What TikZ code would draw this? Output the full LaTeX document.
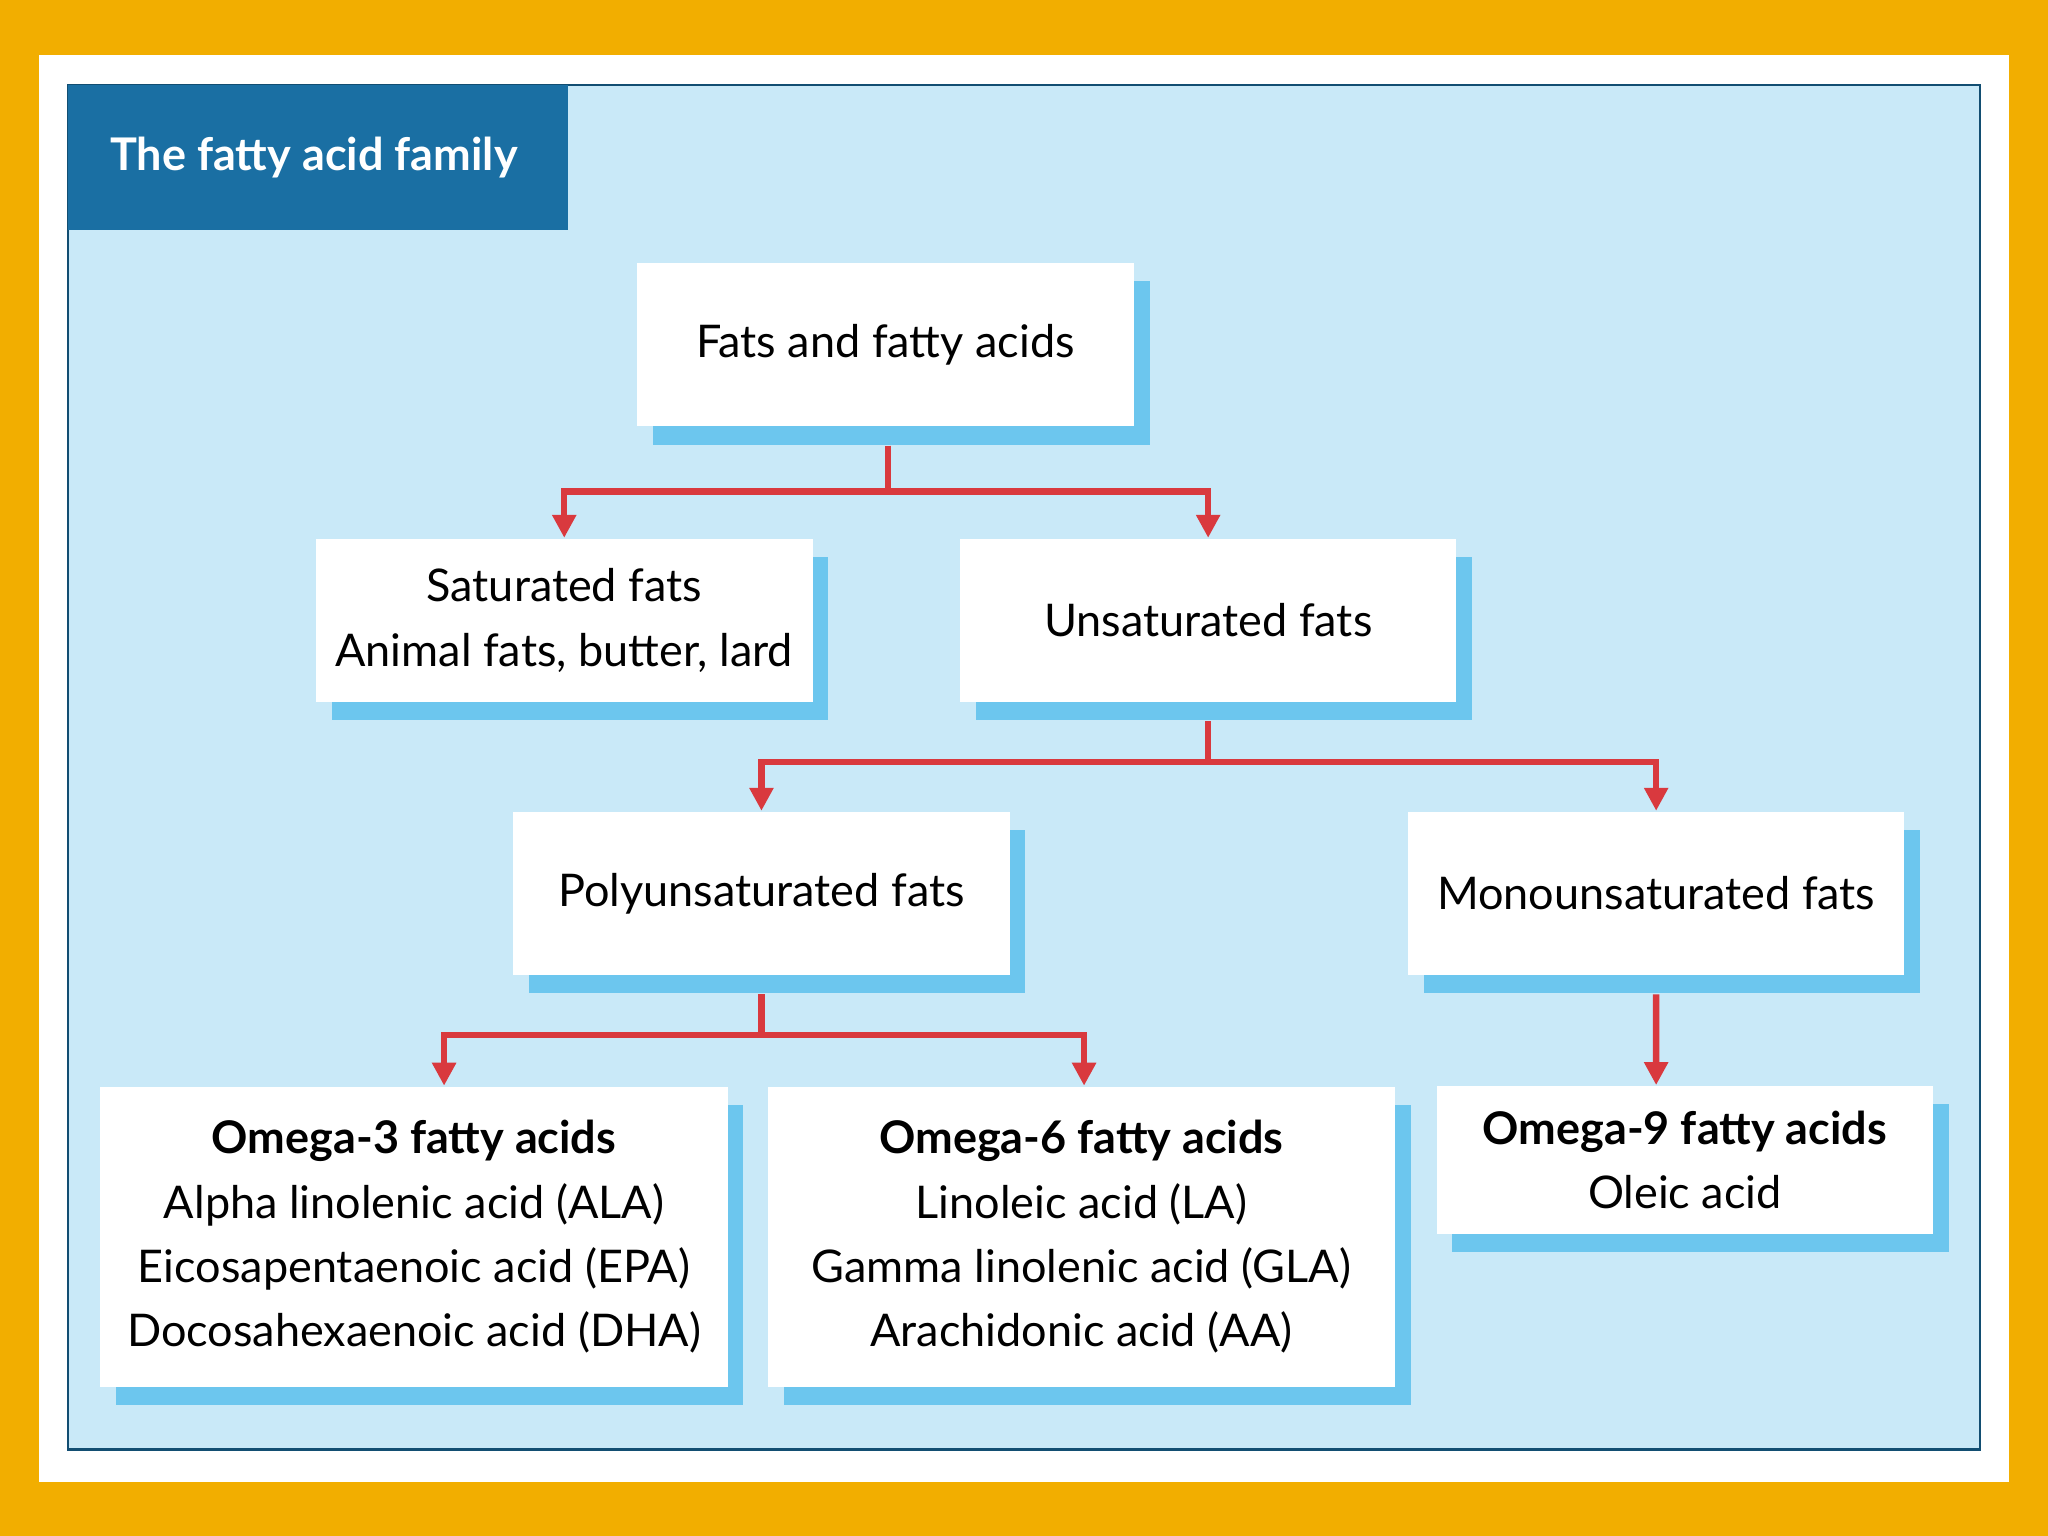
\documentclass[tikz,border=0pt]{standalone}
\usepackage{fontspec}
\setmainfont{Lato}
\usetikzlibrary{shadows,arrows.meta}
\definecolor{orng}{HTML}{F2AE00}
\definecolor{panel}{HTML}{C9E9F8}
\definecolor{titleblue}{HTML}{1A6FA3}
\definecolor{shad}{HTML}{6CC6EE}
\definecolor{conred}{HTML}{D9393E}
\tikzset{
  box/.style={fill=white, align=center, inner sep=0pt, font=\fontsize{9.8}{14}\selectfont,
    drop shadow={shadow xshift=0.12cm, shadow yshift=-0.14cm, fill=shad, opacity=1}},
  conn/.style={draw=conred, line width=1.4pt, -{Triangle[length=5pt,width=5pt]}}
}
\begin{document}
\begin{tikzpicture}[x=0.01cm,y=-0.01cm]
\fill[orng] (0,0) rectangle (1568,1176);
\fill[white] (30,42) rectangle (1538,1135);
\draw[fill=panel, draw=titleblue!70!black, line width=0.6pt] (52,65) rectangle (1516,1110);
\fill[titleblue] (52,65) rectangle (435,176);
\node[anchor=west, text=white, font=\bfseries\fontsize{9.8}{12}\selectfont] (title) at (72,121) {The fatty acid family};

\node[box, minimum width=3.8cm, minimum height=1.25cm] (fats) at (678,264) {Fats and fatty acids};
\node[box, minimum width=3.8cm, minimum height=1.25cm] (sat) at (432,475) {Saturated fats\\Animal fats, butter, lard};
\node[box, minimum width=3.8cm, minimum height=1.25cm] (unsat) at (925,475) {Unsaturated fats};
\node[box, minimum width=3.8cm, minimum height=1.25cm] (poly) at (583,684) {Polyunsaturated fats};
\node[box, minimum width=3.8cm, minimum height=1.25cm] (mono) at (1268,684) {Monounsaturated fats};
\node[box, minimum width=4.8cm, minimum height=2.3cm] (o3) at (317,947) {\textbf{Omega-3 fatty acids}\\Alpha linolenic acid (ALA)\\Eicosapentaenoic acid (EPA)\\Docosahexaenoic acid (DHA)};
\node[box, minimum width=4.8cm, minimum height=2.3cm] (o6) at (828,947) {\textbf{Omega-6 fatty acids}\\Linoleic acid (LA)\\Gamma linolenic acid (GLA)\\Arachidonic acid (AA)};
\node[box, minimum width=3.8cm, minimum height=1.13cm] (o9) at (1290,888) {\textbf{Omega-9 fatty acids}\\Oleic acid};

\draw[conn] ([xshift=0.02cm,yshift=-0.14cm]fats.south) -- ++(0,35) -| (sat.north);
\draw[conn] ([xshift=0.02cm,yshift=-0.14cm]fats.south) -- ++(0,35) -| (unsat.north);
\draw[conn] ([yshift=-0.14cm]unsat.south) -- ++(0,31) -| (poly.north);
\draw[conn] ([yshift=-0.14cm]unsat.south) -- ++(0,31) -| (mono.north);
\draw[conn] ([yshift=-0.14cm]poly.south) -- ++(0,31) -| ([xshift=0.23cm]o3.north);
\draw[conn] ([yshift=-0.14cm]poly.south) -- ++(0,31) -| ([xshift=0.02cm]o6.north);
\draw[conn] ([yshift=-0.14cm]mono.south) -- ([xshift=-0.22cm]o9.north);
\end{tikzpicture}
\end{document}
